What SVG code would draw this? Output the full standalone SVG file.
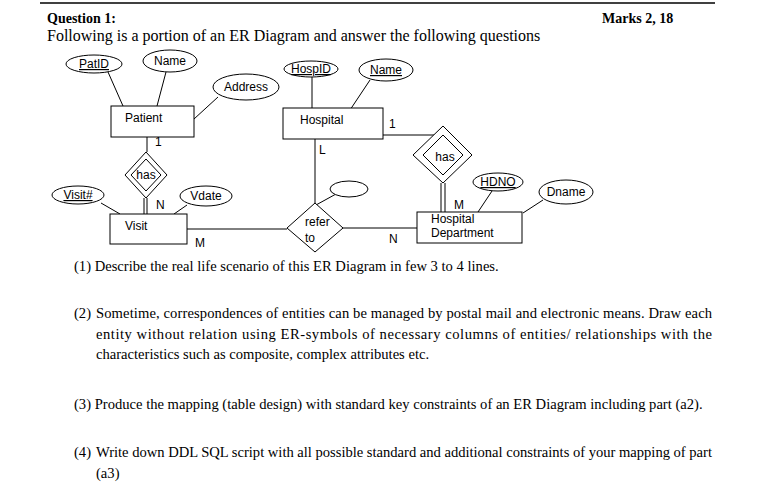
<svg xmlns="http://www.w3.org/2000/svg" width="769" height="503" viewBox="0 0 769 503">
<style>
.s{fill:none;stroke:#000;stroke-width:1}
.w{fill:#fff;stroke:#000;stroke-width:1}
.a{font-family:"Liberation Sans",Arial,sans-serif;font-size:12px;fill:#000}
.t{font-family:"Liberation Serif","Times New Roman",serif;font-size:14.6px;fill:#000}
.h{font-family:"Liberation Serif","Times New Roman",serif;font-size:14px;font-weight:bold;fill:#000}
</style>
<rect width="769" height="503" fill="#fff"/>
<line x1="40" y1="3" x2="715" y2="3" stroke="#000" stroke-width="1.5"/>
<text class="h" x="47" y="23">Question 1:</text>
<text class="h" x="602" y="23">Marks 2, 18</text>
<text class="t" x="47" y="41" style="font-size:16px">Following is a portion of an ER Diagram and answer the following questions</text>
<g id="connectors" class="s">
<line x1="108" y1="72" x2="123" y2="106"/>
<line x1="166" y1="72" x2="157" y2="106"/>
<line x1="194" y1="119" x2="218" y2="97"/>
<line x1="147" y1="137" x2="147" y2="152"/>
<line x1="144" y1="198" x2="144" y2="214"/>
<line x1="147" y1="198" x2="147" y2="214"/>
<line x1="101" y1="203" x2="120" y2="214"/>
<line x1="187" y1="205" x2="174" y2="214"/>
<line x1="187" y1="229" x2="287" y2="229"/>
<line x1="312" y1="77" x2="312" y2="108"/>
<line x1="370" y1="80" x2="350" y2="110"/>
<line x1="383" y1="135" x2="443" y2="135"/>
<line x1="315" y1="139" x2="315" y2="203"/>
<line x1="316" y1="205" x2="336" y2="194"/>
<line x1="441" y1="183" x2="441" y2="213"/>
<line x1="445" y1="183" x2="445" y2="213"/>
<line x1="492" y1="191" x2="478" y2="212"/>
<line x1="543" y1="200" x2="523" y2="213"/>
<line x1="343" y1="228" x2="417" y2="228"/>
</g>
<g id="patid"><ellipse class="w" cx="94" cy="64" rx="28" ry="9"/><text class="a" x="94" y="68" text-anchor="middle" text-decoration="underline">PatID</text></g>
<g id="pname"><ellipse class="w" cx="170" cy="61" rx="27" ry="11"/><text class="a" x="170" y="65" text-anchor="middle">Name</text></g>
<g id="address"><ellipse class="w" cx="246" cy="87" rx="33" ry="13"/><text class="a" x="246" y="91" text-anchor="middle">Address</text></g>
<g id="patient"><rect class="w" x="111" y="106" width="83" height="31"/><text class="a" x="125" y="122">Patient</text></g>
<g id="has1"><polygon class="w" points="146,152 167,175 146,198 125,175"/><polygon class="s" points="146,159 161,175 146,191 131,175"/><text class="a" x="146" y="179" text-anchor="middle">has</text></g>
<g id="visitno"><ellipse class="w" cx="78" cy="195" rx="26" ry="9"/><text class="a" x="78" y="199" text-anchor="middle" text-decoration="underline">Visit#</text></g>
<g id="vdate"><ellipse class="w" cx="206" cy="196" rx="26" ry="10"/><text class="a" x="206" y="200" text-anchor="middle">Vdate</text></g>
<g id="visit"><rect class="w" x="110" y="214" width="77" height="30"/><text class="a" x="125" y="230">Visit</text></g>
<g id="hospid"><ellipse class="w" cx="311" cy="69" rx="27" ry="8"/><text class="a" x="311" y="73" text-anchor="middle" text-decoration="underline">HospID</text></g>
<g id="hname"><ellipse class="w" cx="386" cy="70" rx="27" ry="11"/><text class="a" x="386" y="74" text-anchor="middle" text-decoration="underline">Name</text></g>
<g id="hospital"><rect class="w" x="283" y="108" width="100" height="31"/><text class="a" x="300" y="124">Hospital</text></g>
<g id="has2"><polygon class="w" points="443,126 472,155 443,183 413,155"/><polygon class="s" points="443,135 463,155 443,175 423,155"/><text class="a" x="445" y="161" text-anchor="middle">has</text></g>
<g id="attr"><ellipse class="w" cx="349" cy="189" rx="19" ry="8"/></g>
<g id="refer"><polygon class="w" points="315,203 343,228 315,252 287,228"/><text class="a" x="305" y="226">refer</text><text class="a" x="305" y="242">to</text></g>
<g id="hdno"><ellipse class="w" cx="498" cy="182" rx="25" ry="9"/><text class="a" x="498" y="186" text-anchor="middle" text-decoration="underline">HDNO</text></g>
<g id="dname"><ellipse class="w" cx="566" cy="192" rx="27" ry="12"/><text class="a" x="566" y="196" text-anchor="middle">Dname</text></g>
<g id="hdept"><rect class="w" x="417" y="212" width="105" height="31"/><text class="a" x="431" y="223">Hospital</text><text class="a" x="431" y="237">Department</text></g>
<g id="labels" class="a">
<text x="155" y="146">1</text><text x="156" y="209">N</text><text x="195" y="247">M</text>
<text x="389" y="128">1</text><text x="319" y="154">L</text><text x="454" y="209">M</text><text x="389" y="243">N</text>
</g>
<g id="questions" class="t">
<text x="74" y="271">(1)  Describe the real life scenario of this ER Diagram in few 3 to 4 lines.</text>
<text x="74" y="318">(2)</text>
<text x="96" y="318" textLength="616" lengthAdjust="spacing">Sometime, correspondences of entities can be managed by postal mail and electronic means. Draw each</text>
<text x="96" y="339" textLength="616" lengthAdjust="spacing">entity without relation using ER-symbols of necessary columns of entities/ relationships with the</text>
<text x="96" y="359">characteristics such as composite, complex attributes etc.</text>
<text x="74" y="409">(3)  Produce the mapping (table design) with standard key constraints of an ER Diagram including part (a2).</text>
<text x="74" y="457">(4)</text>
<text x="96" y="457" textLength="616" lengthAdjust="spacing">Write down DDL SQL script with all possible standard and additional constraints of your mapping of part</text>
<text x="96" y="478">(a3)</text>
</g>
</svg>
